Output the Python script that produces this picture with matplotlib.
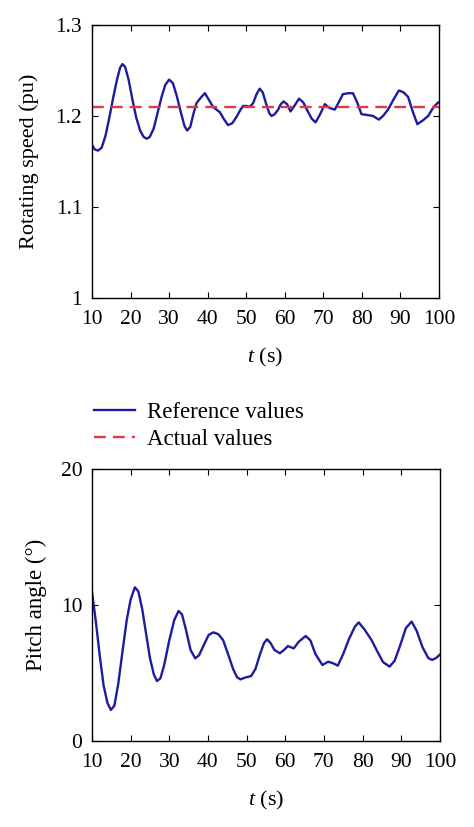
import matplotlib
matplotlib.use('Agg')
from matplotlib import pyplot as plt

plt.rcParams['font.family'] = ['Liberation Serif', 'DejaVu Serif']
plt.rcParams['mathtext.fontset'] = 'custom'
plt.rcParams['mathtext.it'] = 'Liberation Serif:italic'
plt.rcParams['mathtext.rm'] = 'Liberation Serif'

# rotating speed (pu), reference values
t_vel = [10, 10.8, 11.6, 12.5, 13.5, 14.5, 15.5, 16.5, 17.3, 17.9, 18.6, 19.5, 20.5, 21.5, 22.5,
         23.4, 24.2, 25, 26, 27, 28, 29, 30, 31, 32, 33, 34, 34.7, 35.5, 36.3, 37.1, 38.2, 39.3,
         40.3, 41.4, 42.3, 43.2, 44.3, 45.3, 46.4, 47.5, 48.4, 49.2, 50.1, 50.9, 51.8, 52.7, 53.5,
         54.3, 55.2, 56.0, 56.6, 57.4, 58.3, 59.0, 59.7, 60.6, 61.5, 62.5, 63.7, 64.8, 66.0, 67.0,
         68.0, 69.2, 70.4, 71.5, 73.0, 74.0, 75.1, 76.5, 77.7, 78.8, 79.9, 81.5, 82.9, 84.4, 85.5,
         86.8, 88.2, 89.6, 90.8, 92.0, 93.2, 94.4, 95.8, 97.2, 98.5, 99.8, 100]
vel_ref = [1.168, 1.163, 1.162, 1.165, 1.178, 1.198, 1.220, 1.240, 1.253, 1.257, 1.254, 1.240, 1.218,
           1.198, 1.184, 1.177, 1.175, 1.177, 1.186, 1.203, 1.220, 1.234, 1.240, 1.236, 1.222, 1.205,
           1.189, 1.184, 1.188, 1.202, 1.214, 1.220, 1.225, 1.218, 1.210, 1.207, 1.204, 1.196, 1.190,
           1.192, 1.199, 1.206, 1.211, 1.211, 1.210, 1.214, 1.224, 1.230, 1.226, 1.213, 1.203, 1.200,
           1.202, 1.207, 1.213, 1.216, 1.213, 1.205, 1.211, 1.219, 1.215, 1.205, 1.197, 1.193, 1.202,
           1.213, 1.209, 1.207, 1.215, 1.224, 1.225, 1.225, 1.215, 1.202, 1.201, 1.200, 1.196, 1.200,
           1.207, 1.218, 1.228, 1.226, 1.221, 1.205, 1.191, 1.195, 1.200, 1.209, 1.215, 1.215]
vel_real = 1.21

# pitch angle (deg), reference values
t_pitch = [10, 11, 12, 13, 14, 14.9, 15.8, 16.8, 18, 19, 20, 21.1, 22, 23, 24, 25, 26, 26.8, 27.7,
           28.7, 30, 31.3, 32.4, 33.3, 34.3, 35.5, 36.7, 37.7, 39, 40.2, 41.4, 42.7, 43.9, 45.2, 46.5,
           47.5, 48.4, 49.5, 51.2, 52.3, 53.5, 54.5, 55.3, 56.2, 57.2, 58.6, 59.7, 60.7, 62.2, 63.5,
           65.3, 66.5, 67.8, 69.6, 71.1, 72.5, 73.6, 75.0, 76.5, 78.0, 79.0, 80.5, 82.3, 83.8, 85.3,
           87.0, 88.3, 89.7, 91.2, 92.7, 94.0, 95.5, 97.0, 98.0, 99.0, 100]
pitch_ref = [10.98, 8.8, 6.3, 4.1, 2.8, 2.28, 2.6, 4.2, 6.8, 8.9, 10.4, 11.3, 11.0, 9.7, 7.9, 6.1, 4.9,
             4.41, 4.6, 5.6, 7.4, 8.9, 9.56, 9.3, 8.2, 6.7, 6.08, 6.3, 7.1, 7.8, 7.99, 7.85, 7.43, 6.4,
             5.3, 4.7, 4.53, 4.65, 4.78, 5.3, 6.4, 7.2, 7.48, 7.2, 6.7, 6.45, 6.7, 6.98, 6.81, 7.3,
             7.72, 7.4, 6.4, 5.59, 5.83, 5.7, 5.54, 6.4, 7.5, 8.4, 8.72, 8.2, 7.43, 6.6, 5.8, 5.47,
             5.9, 7.0, 8.3, 8.78, 8.1, 6.9, 6.1, 5.96, 6.1, 6.35]

azul = '#1c1c9c'
rojo = '#e03a44'
tam = 15.5

fig = plt.figure(figsize=(4.74, 8.27), dpi=100)
ax1 = fig.add_axes([0.194, 0.6397, 0.732, 0.3301])
ax2 = fig.add_axes([0.194, 0.1040, 0.734, 0.3289])

for ax in (ax1, ax2):
    ax.tick_params(direction='in', top=True, right=True, length=4, width=0.8, labelsize=tam)
    ax.tick_params(axis='x', pad=9)
    ax.tick_params(axis='y', pad=7)
    for s in ax.spines.values():
        s.set_linewidth(1.0)
    ax.set_xlim(10, 100)
    ax.set_xticks(range(10, 101, 10))
    ax.set_xlabel('$t$ (s)', fontsize=tam + 0.5, labelpad=12)

l1, = ax1.plot(t_vel, vel_ref, color=azul, linewidth=1.7, label='Reference values')
l2, = ax1.plot([10, 100], [vel_real, vel_real], color=rojo, linewidth=1.7, dashes=(5, 3),
               label='Actual values')
ax1.set_ylim(1.0, 1.3)
ax1.set_yticks([1.0, 1.1, 1.2, 1.3])
ax1.set_yticklabels(['1', '1.1', '1.2', '1.3'])
ax1.set_ylabel('Rotating speed (pu)', fontsize=tam + 0.5, labelpad=12)

ax2.plot(t_pitch, pitch_ref, color=azul, linewidth=1.7)
ax2.set_ylim(0, 20)
ax2.set_yticks([0, 10, 20])
ax2.set_ylabel('Pitch angle (°)', fontsize=tam + 1, labelpad=10)

fig.legend(handles=[l1, l2], loc='upper left', bbox_to_anchor=(0.198, 0.5143), frameon=False,
           fontsize=16.5, handlelength=1.8, handletextpad=0.5, labelspacing=0.27, borderpad=0,
           borderaxespad=0)

fig.savefig('out.png', dpi=100)
